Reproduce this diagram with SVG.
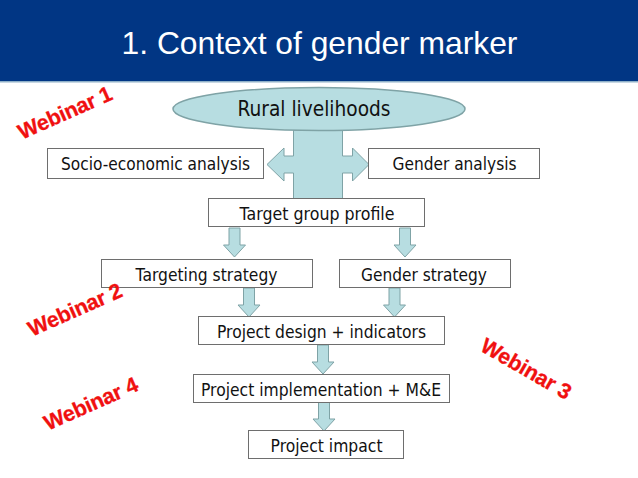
<svg xmlns="http://www.w3.org/2000/svg" width="638" height="478" viewBox="0 0 638 478">
<style>
.box{fill:#fff;stroke:#6e6e6e;stroke-width:1}
.lbl{font-family:"DejaVu Sans","Liberation Sans",sans-serif;font-size:17px;fill:#111;text-anchor:middle}
.web{font-family:"Liberation Sans",Arial,sans-serif;font-weight:bold;font-size:21.500px;letter-spacing:-.2px;fill:#f01010;stroke:#f01010;stroke-width:.3px;text-anchor:middle}
.arr{fill:#b7dde1;stroke:#7fa3a6;stroke-width:1}
</style>
<defs><path id="a" d="M-5.500 0H5.500V17H11L0 29L-11 17H-5.500Z"/></defs>
<rect width="638" height="81" fill="#013684"/>
<rect y="81" width="638" height="1.500" fill="#8fb0c8"/>
<text x="319.500" y="54" font-family="Liberation Sans,Arial,sans-serif" font-size="31.800" fill="#fff" text-anchor="middle">1. Context of gender marker</text>
<g id="connectors">
<path class="arr" d="M293.500 130H342.500V156H352.500V148L369 164.500L352.500 181V173H342.500V198.500H293.500V173H284V181L267 164.500L284 148V156H293.500Z"/>
<use href="#a" class="arr" x="234.500" y="228"/>
<use href="#a" class="arr" x="405" y="228"/>
<use href="#a" class="arr" x="249" y="288"/>
<use href="#a" class="arr" x="394.500" y="288"/>
<use href="#a" class="arr" x="323" y="345"/>
<use href="#a" class="arr" x="324" y="402"/>
</g>
<g id="rural"><ellipse cx="319" cy="109" rx="146" ry="21.500" fill="#b7dde1" stroke="#7fa3a6" stroke-width="1.500"/><text class="lbl" x="314" y="116" style="font-size:21px" textLength="153" lengthAdjust="spacingAndGlyphs">Rural livelihoods</text></g>
<g id="socio"><rect class="box" x="47.500" y="148.500" width="216" height="30"/><text class="lbl" x="155.500" y="169.500" textLength="189" lengthAdjust="spacingAndGlyphs">Socio-economic analysis</text></g>
<g id="gender-analysis"><rect class="box" x="368.500" y="148.500" width="171" height="30"/><text class="lbl" x="454.500" y="169.500" textLength="124" lengthAdjust="spacingAndGlyphs">Gender analysis</text></g>
<g id="target-group"><rect class="box" x="208.500" y="198.500" width="216" height="28"/><text class="lbl" x="317" y="219.500" textLength="155" lengthAdjust="spacingAndGlyphs">Target group profile</text></g>
<g id="targeting"><rect class="box" x="101.500" y="259.500" width="211" height="28"/><text class="lbl" x="206.500" y="280.500" textLength="142" lengthAdjust="spacingAndGlyphs">Targeting strategy</text></g>
<g id="gender-strategy"><rect class="box" x="339.500" y="259.500" width="171" height="28"/><text class="lbl" x="424" y="280.500" textLength="126" lengthAdjust="spacingAndGlyphs">Gender strategy</text></g>
<g id="design"><rect class="box" x="198.500" y="316.500" width="246" height="28"/><text class="lbl" x="321.500" y="337.500" textLength="209" lengthAdjust="spacingAndGlyphs">Project design + indicators</text></g>
<g id="implementation"><rect class="box" x="193.500" y="374.500" width="256" height="28"/><text class="lbl" x="321" y="395.500" textLength="240" lengthAdjust="spacingAndGlyphs">Project implementation + M&amp;E</text></g>
<g id="impact"><rect class="box" x="248.500" y="430.500" width="155" height="28"/><text class="lbl" x="326.500" y="451.500" textLength="112" lengthAdjust="spacingAndGlyphs">Project impact</text></g>
<text class="web" transform="translate(65 113) rotate(-24)" y="7">Webinar 1</text>
<text class="web" transform="translate(75 310) rotate(-24)" y="7">Webinar 2</text>
<text class="web" transform="translate(526 369) rotate(30)" y="7">Webinar 3</text>
<text class="web" transform="translate(91 404) rotate(-24)" y="7">Webinar 4</text>
</svg>
